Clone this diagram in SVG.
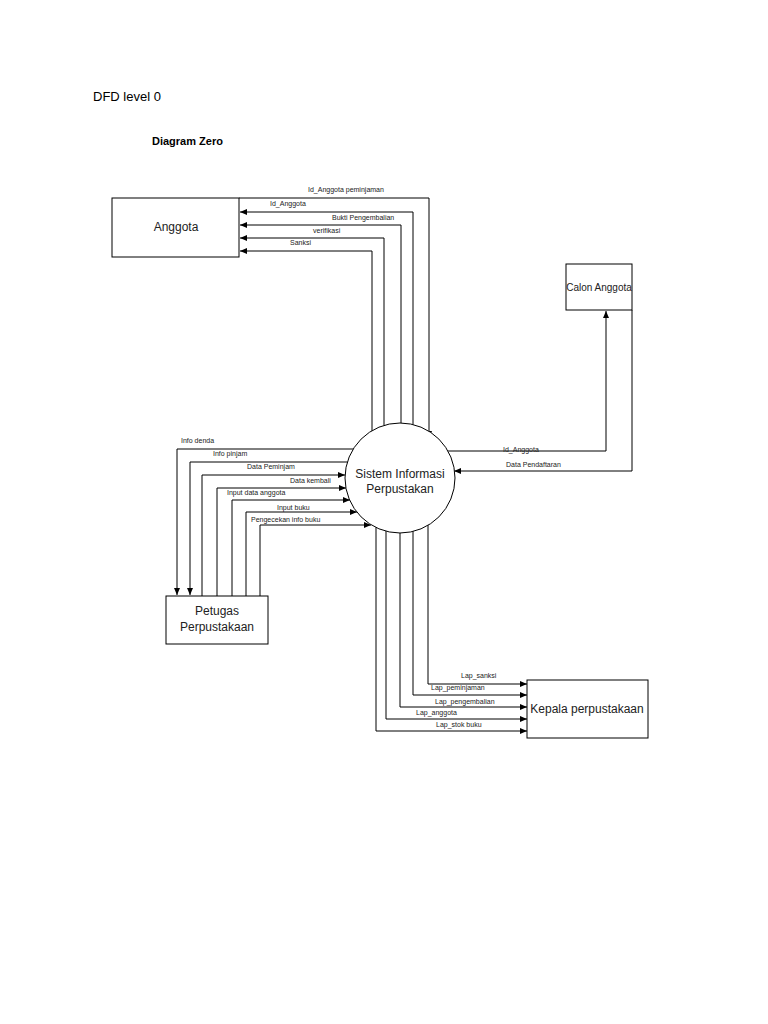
<svg xmlns="http://www.w3.org/2000/svg" width="768" height="1024" viewBox="0 0 768 1024">
<style>
.ln{fill:none;stroke:#000;stroke-width:1}
.ar{marker-end:url(#ah)}
.box{fill:#fff;stroke:#000;stroke-width:1}
.lb{font-family:"Liberation Sans",Arial,sans-serif;font-size:7px;fill:#222}
.nd{font-family:"Liberation Sans",Arial,sans-serif;font-size:12px;fill:#222;text-anchor:middle}
</style>
<defs>
<marker id="ah" markerWidth="8" markerHeight="6" refX="7" refY="3" orient="auto" markerUnits="userSpaceOnUse">
<path d="M0,0 L7,3 L0,6 z" fill="#000"/>
</marker>
</defs>
<rect width="768" height="1024" fill="#fff"/>
<text x="93" y="101" style="font-family:'Liberation Sans',Arial,sans-serif;font-size:13px">DFD level 0</text>
<text x="152" y="145" style="font-family:'Liberation Sans',Arial,sans-serif;font-size:11px;font-weight:bold">Diagram Zero</text>
<g id="connectors">
<path class="ln ar" d="M239,198 H429 V438"/>
<path class="ln ar" d="M413,440 V212 H240"/>
<path class="ln ar" d="M401,440 V225 H240"/>
<path class="ln ar" d="M384,440 V238 H240"/>
<path class="ln ar" d="M372,440 V251 H240"/>
<path class="ln ar" d="M360,449 H177 V595"/>
<path class="ln ar" d="M360,462 H190 V595"/>
<path class="ln ar" d="M202,596 V475 H345"/>
<path class="ln ar" d="M217,596 V488 H346"/>
<path class="ln ar" d="M232,596 V500 H350"/>
<path class="ln ar" d="M246,596 V512 H357"/>
<path class="ln ar" d="M260,596 V525 H371"/>
<path class="ln ar" d="M440,451 H606 V311"/>
<path class="ln ar" d="M632,310 V471 H454"/>
<path class="ln ar" d="M428,510 V684 H527"/>
<path class="ln ar" d="M413,510 V695 H527"/>
<path class="ln ar" d="M400,510 V707 H527"/>
<path class="ln ar" d="M386,510 V719 H527"/>
<path class="ln ar" d="M376,510 V731 H527"/>
<text class="lb" x="308" y="192">Id_Anggota peminjaman</text>
<text class="lb" x="270" y="206">Id_Anggota</text>
<text class="lb" x="332" y="220">Bukti  Pengembalian</text>
<text class="lb" x="313" y="233">verifikasi</text>
<text class="lb" x="290" y="245">Sanksi</text>
<text class="lb" x="181" y="443">Info denda</text>
<text class="lb" x="213" y="456">Info pinjam</text>
<text class="lb" x="247" y="469">Data Peminjam</text>
<text class="lb" x="290" y="483">Data kembali</text>
<text class="lb" x="227" y="495">Input data anggota</text>
<text class="lb" x="277" y="510">Input buku</text>
<text class="lb" x="251" y="522">Pengecekan info buku</text>
<text class="lb" x="503" y="452">Id_Anggota</text>
<text class="lb" x="506" y="467">Data Pendaftaran</text>
<text class="lb" x="461" y="678">Lap_sanksi</text>
<text class="lb" x="431" y="690">Lap_peminjaman</text>
<text class="lb" x="435" y="704">Lap_pengembalian</text>
<text class="lb" x="416" y="715">Lap_anggota</text>
<text class="lb" x="436" y="727">Lap_stok buku</text>
</g>
<g id="sistem">
<circle class="box" cx="400" cy="478" r="55"/>
<text class="nd" x="400" y="478">Sistem Informasi</text>
<text class="nd" x="400" y="493">Perpustakan</text>
</g>
<g id="anggota">
<rect class="box" x="112" y="198" width="127" height="59"/>
<text class="nd" x="176" y="231">Anggota</text>
</g>
<g id="calon">
<rect class="box" x="566" y="264" width="66" height="46"/>
<text class="nd" x="599" y="291" style="font-size:10px">Calon Anggota</text>
</g>
<g id="petugas">
<rect class="box" x="166" y="596" width="102" height="48"/>
<text class="nd" x="217" y="615">Petugas</text>
<text class="nd" x="217" y="631">Perpustakaan</text>
</g>
<g id="kepala">
<rect class="box" x="527" y="680" width="121" height="58"/>
<text class="nd" x="587" y="713">Kepala perpustakaan</text>
</g>
</svg>
